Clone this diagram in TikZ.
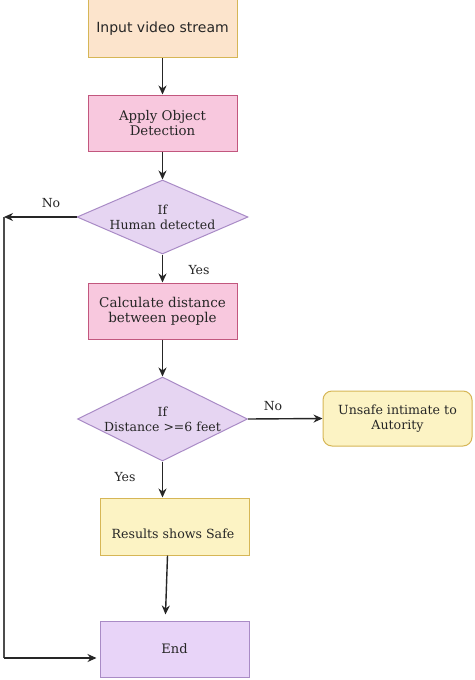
\documentclass[tikz,border=0pt]{standalone}
\usepackage{fontspec}
\setmainfont{DejaVu Serif}
\newfontfamily\boxsans{DejaVu Sans}
\usetikzlibrary{shapes.geometric,arrows.meta}
\definecolor{txt}{HTML}{262626}
\definecolor{peachfill}{HTML}{FCE4CC}
\definecolor{yellowline}{HTML}{D6B656}
\definecolor{pinkfill}{HTML}{F8C8DE}
\definecolor{pinkline}{HTML}{C2577E}
\definecolor{lilacfill}{HTML}{E6D5F2}
\definecolor{lilacline}{HTML}{A98BC6}
\definecolor{creamfill}{HTML}{FCF3C4}
\definecolor{endfill}{HTML}{E8D4F8}
\tikzset{
  boxbase/.style={draw, line width=1pt, text=txt, align=center, inner sep=0pt,
    font=\fontsize{13.3}{15}\selectfont},
  peachbox/.style={boxbase, fill=peachfill, draw=yellowline},
  pinkbox/.style={boxbase, fill=pinkfill, draw=pinkline},
  creambox/.style={boxbase, fill=creamfill, draw=yellowline, font=\fontsize{12.6}{15}\selectfont},
  endbox/.style={boxbase, fill=endfill, draw=lilacline},
  decision/.style={diamond, draw=lilacline, fill=lilacfill, line width=1pt, inner sep=0pt},
  dtext/.style={text=txt, align=center, font=\fontsize{12.5}{15}\selectfont},
  lbl/.style={text=txt, font=\fontsize{12.5}{14}\selectfont},
  arrowline/.style={draw=black!85, line width=1.4pt, -{Stealth[length=9pt,width=8pt]}},
  plainline/.style={draw=black!70, line width=1.4pt}
}
\begin{document}
\begin{tikzpicture}[x=1pt,y=-1pt]
\useasboundingbox[fill=white] (0,0) rectangle (474,680);
% nodes
\node[peachbox, minimum width=149pt, minimum height=58pt, font=\boxsans\fontsize{14}{16}\selectfont] (in) at (162.5,28.5) {Input video stream};
\node[pinkbox, minimum width=149pt, minimum height=56pt] (det) at (162.5,123) {Apply Object\\Detection};
\node[decision, minimum width=171pt, minimum height=74pt] (d1) at (162.5,217) {};
\node[dtext] (d1t) at (162.5,217) {If\\Human detected};
\node[pinkbox, minimum width=149pt, minimum height=56pt, font=\fontsize{13.5}{15}\selectfont] (calc) at (162.5,311) {Calculate distance\\between people};
\node[decision, minimum width=170pt, minimum height=84pt] (d2) at (162.5,419) {};
\node[dtext] (d2t) at (162.5,419.5) {If\\Distance >=6 feet};
\node[creambox, rounded corners=9pt, minimum width=149pt, minimum height=55pt] (unsafe) at (397.5,418.5) {Unsafe intimate to\\Autority};
\node[creambox, minimum width=149pt, minimum height=57pt] (safe) at (174.5,526.5) {};
\node[dtext, font=\fontsize{12.6}{15}\selectfont] (safet) at (173,534) {Results shows Safe};
\node[endbox, minimum width=149pt, minimum height=56pt, font=\fontsize{13}{15}\selectfont] (end) at (174.5,649) {End};
% loop coordinates
\coordinate (lt) at (4,217);
\coordinate (lb) at (4,658);
% connectors
\draw[arrowline] (in.south) -- (det.north);
\draw[arrowline] (det.south) -- (d1.north);
\draw[arrowline] (d1.south) -- (calc.north);
\draw[arrowline] (calc.south) -- (d2.north);
\draw[arrowline] (d2.east) -- (unsafe.west);
\draw[arrowline] (d2.south) -- (safe.north -| d2.south);
\draw[arrowline] ([xshift=-7pt]safe.south) -- ([xshift=-9pt,yshift=6pt]end.north);
\draw[arrowline] (d1.west) -- (lt);
\draw[plainline] (lt) -- (lb);
\draw[arrowline, shorten >=3pt] (lb) -- (lb -| end.west);
% labels
\node[lbl] (no1) at (51,203) {No};
\node[lbl] (yes1) at (199,270) {Yes};
\node[lbl] (no2) at (273,406) {No};
\node[lbl] (yes2) at (125,477) {Yes};
\end{tikzpicture}
\end{document}
